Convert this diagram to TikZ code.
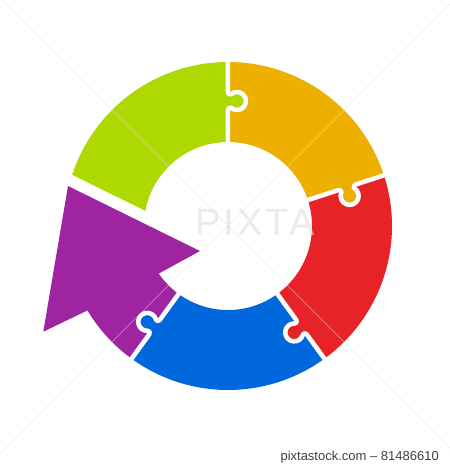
\documentclass[tikz,border=0pt]{standalone}
\usepackage{fontspec}
\setmainfont{Liberation Sans}
\definecolor{pgreen}{RGB}{173,217,0}
\definecolor{porange}{RGB}{238,176,0}
\definecolor{pred}{RGB}{232,35,40}
\definecolor{pblue}{RGB}{0,103,221}
\definecolor{ppurple}{RGB}{158,36,160}
\newcommand\puzzleknob[2]{%
  \begin{scope}[rotate=#1]
    \fill[#2] (116,0) .. controls (118,0) and (119.4,-1.7) .. (118.1,-3.2)
      arc[start angle=140,end angle=400,radius=9]
      .. controls (130.6,-1.7) and (132,0) .. (134,0) -- cycle;
    \draw[seamline] (78,0) -- (116,0) .. controls (118,0) and (119.4,-1.7) .. (118.1,-3.2)
      arc[start angle=140,end angle=400,radius=9]
      .. controls (130.6,-1.7) and (132,0) .. (134,0) -- (170,0);
  \end{scope}}
\begin{document}
\begin{tikzpicture}[x=1pt,y=1pt,
  seamline/.style={draw=white,line width=4.5pt,line join=round},
  wmline/.style={draw=black!12,line width=0.7pt,opacity=0.6}]
\useasboundingbox (-228,-238) rectangle (222,226);
\clip (-228,-238) rectangle (222,226);
\fill[white] (-228,-238) rectangle (222,226);
% ring pieces
\fill[pgreen] (90:164) arc[start angle=90,end angle=161.8,radius=164]
  -- (169.6:84) arc[start angle=169.6,end angle=90,radius=84] -- cycle;
\fill[porange] (18:164) arc[start angle=18,end angle=90,radius=164]
  -- (90:84) arc[start angle=90,end angle=18,radius=84] -- cycle;
\fill[pred] (-54:164) arc[start angle=-54,end angle=18,radius=164]
  -- (18:84) arc[start angle=18,end angle=-54,radius=84] -- cycle;
\fill[pblue] (234:164) arc[start angle=234,end angle=306,radius=164]
  -- (306:84) arc[start angle=306,end angle=234,radius=84] -- cycle;
% purple arrow
\coordinate (tip) at (-28,-25);
\coordinate (topback) at (-160,40);
\coordinate (botback) at (-184.7,-105.7);
\fill[ppurple] (234:84) arc[start angle=234,end angle=214.5,radius=84]
  -- (tip) -- (topback) -- (botback) -- (211:164)
  arc[start angle=211,end angle=234,radius=164] -- cycle;
% puzzle seams with knobs
\puzzleknob{90}{pgreen}
\puzzleknob{18}{porange}
\puzzleknob{-54}{pred}
\puzzleknob{234}{pblue}
% watermark
\draw[wmline] (-240,240) -- (240,-240);
\draw[wmline] (-240,-240) -- (240,240);
\node[text=white!86!black,text opacity=0.55] (wm) at (27,4)
  {\fontsize{38}{38}\selectfont\addfontfeatures{LetterSpace=8}PIXTA};
\node[anchor=base east,text=black!75,inner sep=0pt] (stamp) at (211,-234)
  {\fontsize{13}{13}\selectfont pixtastock.com – 81486610};
\end{tikzpicture}
\end{document}
